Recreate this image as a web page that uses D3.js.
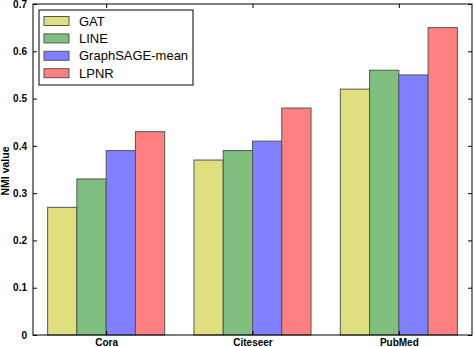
<!DOCTYPE html>
<html><head><meta charset="utf-8">
<script src="https://cdn.jsdelivr.net/npm/d3@7"></script>
<style>body{margin:0;background:#fff}svg{display:block}text{font-family:"Liberation Sans",Arial,sans-serif}</style>
</head><body><svg id="c" width="474" height="347"></svg>
<script>
const categories = ["Cora","Citeseer","PubMed"];
const seriesNames = ["GAT","LINE","GraphSAGE-mean","LPNR"];
const GAT = [0.27,0.37,0.52];
const LINE = [0.33,0.39,0.56];
const GraphSAGE = [0.39,0.41,0.55];
const LPNR = [0.43,0.48,0.65];
const yTicks = [0,0.1,0.2,0.3,0.4,0.5,0.6,0.7];
const colors = ["#dfdf80","#80bf80","#8080ff","#ff8080"];
const series = [GAT,LINE,GraphSAGE,LPNR];

const svg = d3.select("#c");
const L=33,R=472,T=4,B=335;
const x = d3.scaleLinear().domain([-0.5,2.5]).range([L,R]);
const y = d3.scaleLinear().domain([0,0.7]).range([B,T]);
const bw = 0.2;

series.forEach((s,si)=>{
  svg.append("g").selectAll("rect").data(s).join("rect")
    .attr("x",(d,i)=>x(i-0.4+si*bw))
    .attr("width",x(bw)-x(0))
    .attr("y",d=>y(d))
    .attr("height",d=>y(0)-y(d))
    .attr("fill",colors[si])
    .attr("stroke","#555").attr("stroke-width",1);
});

// frame
svg.append("rect").attr("x",L).attr("y",T).attr("width",R-L).attr("height",B-T)
  .attr("fill","none").attr("stroke","#000").attr("stroke-width",1);

// y axis inside ticks
const yl = svg.append("g").attr("transform",`translate(${L},0)`)
  .call(d3.axisLeft(y).tickValues(yTicks).tickSizeInner(-4).tickSizeOuter(0).tickPadding(6)
    .tickFormat(d=>d===0?"0":d3.format(".1f")(d)));
yl.select(".domain").remove();
yl.selectAll("text").attr("font-size",10).attr("font-weight","bold").attr("fill","#000");
const yr = svg.append("g").attr("transform",`translate(${R},0)`)
  .call(d3.axisRight(y).tickValues(yTicks).tickSizeInner(-4).tickSizeOuter(0).tickFormat(""));
yr.select(".domain").remove();

// x axis
const xb = svg.append("g").attr("transform",`translate(0,${B})`)
  .call(d3.axisBottom(x).tickValues([0,1,2]).tickSizeInner(-4).tickSizeOuter(0).tickPadding(4)
    .tickFormat(i=>categories[i]));
xb.select(".domain").remove();
xb.selectAll("text").attr("font-size",10).attr("font-weight","bold").attr("fill","#000");
const xt = svg.append("g").attr("transform",`translate(0,${T})`)
  .call(d3.axisTop(x).tickValues([0,1,2]).tickSizeInner(-4).tickSizeOuter(0).tickFormat(""));
xt.select(".domain").remove();

// y label
svg.append("text").attr("transform","translate(9,171) rotate(-90)")
  .attr("text-anchor","middle").attr("font-size",10.5).attr("font-weight","bold").text("NMI value");

// legend
const lg = svg.append("g");
lg.append("rect").attr("x",39).attr("y",10).attr("width",154).attr("height",75)
  .attr("fill","#fff").attr("stroke","#000").attr("stroke-width",1);
seriesNames.forEach((n,i)=>{
  const cy = 21 + i*17.4;
  lg.append("rect").attr("x",44).attr("y",cy-4.5).attr("width",25).attr("height",9)
    .attr("fill",colors[i]).attr("stroke","#555");
  lg.append("text").attr("x",79).attr("y",cy).attr("dy","0.36em").attr("font-size",13).text(n);
});
</script></body></html>
